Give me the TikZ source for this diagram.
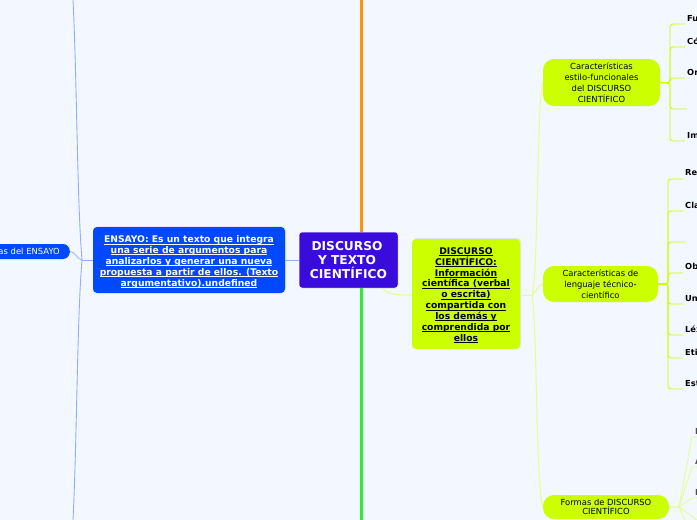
\documentclass[tikz,border=0pt]{standalone}
\usepackage{fontspec}
\setmainfont{DejaVu Sans}
\usetikzlibrary{calc}
\usetikzlibrary{shadows}
\definecolor{paper}{HTML}{F3F7FF}
\definecolor{rootblue}{HTML}{3A0CDC}
\definecolor{essayblue}{HTML}{0049FF}
\definecolor{lime}{HTML}{CCFF00}
\definecolor{limesoft}{HTML}{E3FF8C}
\definecolor{bluesoft}{HTML}{8FAEFF}
\newsavebox{\undlbox}
\newcommand{\undl}[1]{\sbox{\undlbox}{#1}\rlap{\rule[-1.4pt]{\wd\undlbox}{.6pt}}\usebox{\undlbox}}
\tikzset{
 rootbox/.style={fill=rootblue, draw=white, line width=.5, rounded corners=3, text=white, align=center, font=\fontsize{12.2}{14}\selectfont\bfseries, inner sep=0},
 mainbox/.style={rounded corners=4, align=center, inner sep=0, font=\fontsize{9.2}{10.9}\selectfont\bfseries, drop shadow={opacity=.15, shadow xshift=1, shadow yshift=-1}},
 pill/.style={fill=lime, rounded corners=11, align=center, inner sep=0, font=\fontsize{8.4}{10.8}\selectfont},
 leaf/.style={anchor=south west, inner sep=2, font=\fontsize{8.3}{10}\selectfont\bfseries},
 twig/.style={lime, line width=.9, rounded corners=3},
 spine/.style={limesoft, line width=1},
}
\begin{document}
\begin{tikzpicture}[x=1pt,y=-1pt]
\useasboundingbox (0,0) rectangle (697,520);
\clip (0,0) rectangle (697,520);
\fill[paper] (0,0) rectangle (697,520);
% coordinates
\coordinate (orangeEnd) at (361,0);
\coordinate (greenEnd) at (361,520);
\coordinate (blueJ) at (82,260);
\coordinate (blueTop) at (73,0);
\coordinate (blueBot) at (73,520);
\coordinate (limeStart) at (383,289);
\coordinate (limeJ) at (532,295);
\coordinate (jEstilo) at (670,83);
\coordinate (jLenguaje) at (668,284);
\coordinate (jFormas) at (679,507);
\coordinate (gapA) at (687,109);
\coordinate (gapB) at (685,242);
\coordinate (downA) at (685,520);
\coordinate (downB) at (697,520);
% main nodes
\node[rootbox, minimum width=99, minimum height=56] (root) at (348.5,260) {\hspace*{-3pt}DISCURSO\\ \hspace*{-3pt}Y TEXTO\\ CIENTÍFICO};
\node[mainbox, fill=essayblue, text=white, minimum width=192, minimum height=66] (ensayo) at (189,260) {\rule{0pt}{11pt}\undl{ENSAYO: Es un texto que integra}\\ \undl{una serie de argumentos para}\\ \undl{analizarlos y generar una nueva}\\ \undl{propuesta a partir de ellos. (Texto}\\ \undl{argumentativo).undefined}};
\node[mainbox, fill=lime, minimum width=108, minimum height=110] (discurso) at (466,294) {\rule{0pt}{9pt}\undl{DISCURSO}\\ \undl{CIENTÍFICO:}\\ \undl{Información}\\ \undl{científica (verbal}\\ \undl{o escrita)}\\ \undl{compartida con}\\ \undl{los demás y}\\ \undl{comprendida por}\\ \undl{ellos}};
\node[pill, minimum width=117, minimum height=47] (estilo) at (601.5,82.5) {Características\\ estilo-funcionales\\ del DISCURSO\\ CIENTÍFICO};
\node[pill, minimum width=115, minimum height=36] (lenguaje) at (600.5,284) {Características de\\ lenguaje técnico-\\ científico};
\node[pill, minimum width=126, minimum height=24, font=\fontsize{8.4}{9.5}\selectfont] (formas) at (606,507) {Formas de DISCURSO\\ CIENTÍFICO};
\node[pill, rounded corners=7, fill=essayblue, text=white, minimum height=15, text width=100, align=right, anchor=east] (formasEnsayo) at (70,251.5) {as del ENSAYO\hspace*{10pt}};
% leaves
\foreach \name/\txt/\y in {fu/Fu/24, co/Có/47, or/Or/78, im/Im/141} {
 \node[leaf] (\name) at (685,\y) {\txt};
 \draw[twig] (estilo.east) -- (jEstilo) |- (\name.south west);
}
\draw[twig] (jEstilo) |- (gapA);
\foreach \name/\txt/\y in {reg/Reg/179, cla/Cla/211, obj/Obj/273, un/Un/304, lex/Léx/335, eti/Eti/358, est/Est/389} {
 \node[leaf] (\name) at (683,\y) {\txt};
 \draw[twig] (lenguaje.east) -- (jLenguaje) |- (\name.south west);
}
\draw[twig] (jLenguaje) |- (gapB);
\foreach \name/\txt/\y in {pa/I/437, pb/A/467, pc/I/498} {
 \node[leaf, text=black!70, inner xsep=3] (\name) at (692,\y) {\txt};
 \draw[limesoft, line width=.9] (formas.east) -- (jFormas) -- (\name.south west) -- ++(5,0);
}
\draw[limesoft, line width=.9] (jFormas) -- (downA);
\draw[limesoft, line width=.9] (jFormas) -- (downB);
% main lines
\draw[orange!85!yellow, line width=3] (orangeEnd) -- (orangeEnd |- root.north);
\draw[green!90!black!80!white, line width=3] (greenEnd) -- (greenEnd |- root.south);
\draw[bluesoft, line width=1] (root.west) -- (ensayo.east);
\draw[bluesoft, line width=1] (ensayo.west) -- (blueJ);
\draw[bluesoft, line width=.9] (blueJ) .. controls (77,200) and (77,80) .. (blueTop);
\draw[bluesoft, line width=.9] (blueJ) .. controls (77,320) and (77,440) .. (blueBot);
\draw[bluesoft, line width=.7] (blueJ) .. controls (76,259) and (76,251.5) .. (formasEnsayo.east);
\draw[spine] (limeStart) .. controls (387,294) and (395,295) .. (discurso.west |- limeJ);
\draw[spine] (discurso.east |- limeJ) -- (limeJ);
\draw[spine] (limeJ) .. controls (538,280) and (537,100) .. (estilo.west);
\draw[spine] (limeJ) .. controls (537,292) and (538,284) .. (lenguaje.west);
\draw[spine] (limeJ) .. controls (537,320) and (536,490) .. (formas.west);
\end{tikzpicture}
\end{document}
